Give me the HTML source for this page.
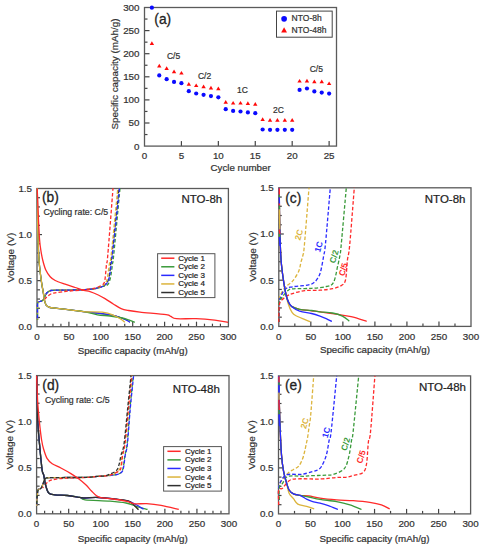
<!DOCTYPE html><html><head><meta charset="utf-8"><style>html,body{margin:0;padding:0;background:#fff;}svg{display:block;}</style></head><body>
<svg width="482" height="550" viewBox="0 0 482 550" font-family='"Liberation Sans", sans-serif'>
<rect width="482" height="550" fill="#fff"/>
<text x="144.50" y="159.20" font-size="9.80" text-anchor="middle" fill="#333" stroke="#333" stroke-width="0.22">0</text>
<line x1="181.42" y1="146.10" x2="181.42" y2="141.10" stroke="#444" stroke-width="1.20"/>
<text x="181.42" y="159.20" font-size="9.80" text-anchor="middle" fill="#333" stroke="#333" stroke-width="0.22">5</text>
<line x1="218.35" y1="146.10" x2="218.35" y2="141.10" stroke="#444" stroke-width="1.20"/>
<text x="218.35" y="159.20" font-size="9.80" text-anchor="middle" fill="#333" stroke="#333" stroke-width="0.22">10</text>
<line x1="255.27" y1="146.10" x2="255.27" y2="141.10" stroke="#444" stroke-width="1.20"/>
<text x="255.27" y="159.20" font-size="9.80" text-anchor="middle" fill="#333" stroke="#333" stroke-width="0.22">15</text>
<line x1="292.19" y1="146.10" x2="292.19" y2="141.10" stroke="#444" stroke-width="1.20"/>
<text x="292.19" y="159.20" font-size="9.80" text-anchor="middle" fill="#333" stroke="#333" stroke-width="0.22">20</text>
<line x1="329.12" y1="146.10" x2="329.12" y2="141.10" stroke="#444" stroke-width="1.20"/>
<text x="329.12" y="159.20" font-size="9.80" text-anchor="middle" fill="#333" stroke="#333" stroke-width="0.22">25</text>
<text x="139.50" y="149.50" font-size="9.80" text-anchor="end" fill="#333" stroke="#333" stroke-width="0.22">0</text>
<line x1="144.50" y1="134.55" x2="147.50" y2="134.55" stroke="#444" stroke-width="1.20"/>
<line x1="144.50" y1="123.00" x2="149.50" y2="123.00" stroke="#444" stroke-width="1.20"/>
<text x="139.50" y="126.40" font-size="9.80" text-anchor="end" fill="#333" stroke="#333" stroke-width="0.22">50</text>
<line x1="144.50" y1="111.45" x2="147.50" y2="111.45" stroke="#444" stroke-width="1.20"/>
<line x1="144.50" y1="99.90" x2="149.50" y2="99.90" stroke="#444" stroke-width="1.20"/>
<text x="139.50" y="103.30" font-size="9.80" text-anchor="end" fill="#333" stroke="#333" stroke-width="0.22">100</text>
<line x1="144.50" y1="88.35" x2="147.50" y2="88.35" stroke="#444" stroke-width="1.20"/>
<line x1="144.50" y1="76.80" x2="149.50" y2="76.80" stroke="#444" stroke-width="1.20"/>
<text x="139.50" y="80.20" font-size="9.80" text-anchor="end" fill="#333" stroke="#333" stroke-width="0.22">150</text>
<line x1="144.50" y1="65.25" x2="147.50" y2="65.25" stroke="#444" stroke-width="1.20"/>
<line x1="144.50" y1="53.70" x2="149.50" y2="53.70" stroke="#444" stroke-width="1.20"/>
<text x="139.50" y="57.10" font-size="9.80" text-anchor="end" fill="#333" stroke="#333" stroke-width="0.22">200</text>
<line x1="144.50" y1="42.15" x2="147.50" y2="42.15" stroke="#444" stroke-width="1.20"/>
<line x1="144.50" y1="30.60" x2="149.50" y2="30.60" stroke="#444" stroke-width="1.20"/>
<text x="139.50" y="34.00" font-size="9.80" text-anchor="end" fill="#333" stroke="#333" stroke-width="0.22">250</text>
<line x1="144.50" y1="19.05" x2="147.50" y2="19.05" stroke="#444" stroke-width="1.20"/>
<text x="139.50" y="10.90" font-size="9.80" text-anchor="end" fill="#333" stroke="#333" stroke-width="0.22">300</text>
<rect x="144.50" y="7.50" width="192.00" height="138.60" fill="none" stroke="#5a5a5a" stroke-width="1.30"/>
<text x="240.60" y="170.90" font-size="9.75" text-anchor="middle" fill="#333" stroke="#333" stroke-width="0.22">Cycle number</text>
<text x="0" y="0" font-size="9.85" text-anchor="middle" fill="#333" stroke="#333" stroke-width="0.22" transform="translate(118.2 74) rotate(-90) scale(1 0.88)">Specific capacity (mAh/g)</text>
<text x="0" y="0" font-size="15" fill="#222" stroke="#222" stroke-width="0.3" transform="translate(154.3 23.6) scale(0.92 1)">(a)</text>
<text x="173.50" y="58.80" font-size="8.50" text-anchor="middle" fill="#333" stroke="#333" stroke-width="0.22">C/5</text>
<text x="204.50" y="78.60" font-size="8.50" text-anchor="middle" fill="#333" stroke="#333" stroke-width="0.22">C/2</text>
<text x="242.40" y="93.30" font-size="8.50" text-anchor="middle" fill="#333" stroke="#333" stroke-width="0.22">1C</text>
<text x="278.50" y="112.70" font-size="8.50" text-anchor="middle" fill="#333" stroke="#333" stroke-width="0.22">2C</text>
<text x="316.30" y="71.80" font-size="8.50" text-anchor="middle" fill="#333" stroke="#333" stroke-width="0.22">C/5</text>
<circle cx="151.88" cy="7.70" r="2.1" fill="#0a0aff"/>
<path d="M149.68 44.90 L154.08 44.90 L151.88 41.20 Z" fill="#ff0a0a"/>
<circle cx="159.27" cy="75.40" r="2.1" fill="#0a0aff"/>
<path d="M157.07 67.50 L161.47 67.50 L159.27 63.80 Z" fill="#ff0a0a"/>
<circle cx="166.65" cy="79.20" r="2.1" fill="#0a0aff"/>
<path d="M164.45 70.00 L168.85 70.00 L166.65 66.30 Z" fill="#ff0a0a"/>
<circle cx="174.04" cy="81.90" r="2.1" fill="#0a0aff"/>
<path d="M171.84 73.30 L176.24 73.30 L174.04 69.60 Z" fill="#ff0a0a"/>
<circle cx="181.42" cy="83.20" r="2.1" fill="#0a0aff"/>
<path d="M179.22 74.60 L183.62 74.60 L181.42 70.90 Z" fill="#ff0a0a"/>
<circle cx="188.81" cy="91.20" r="2.1" fill="#0a0aff"/>
<path d="M186.61 85.70 L191.01 85.70 L188.81 82.00 Z" fill="#ff0a0a"/>
<circle cx="196.19" cy="93.50" r="2.1" fill="#0a0aff"/>
<path d="M193.99 87.10 L198.39 87.10 L196.19 83.40 Z" fill="#ff0a0a"/>
<circle cx="203.58" cy="94.80" r="2.1" fill="#0a0aff"/>
<path d="M201.38 88.20 L205.78 88.20 L203.58 84.50 Z" fill="#ff0a0a"/>
<circle cx="210.96" cy="96.10" r="2.1" fill="#0a0aff"/>
<path d="M208.76 89.50 L213.16 89.50 L210.96 85.80 Z" fill="#ff0a0a"/>
<circle cx="218.35" cy="97.30" r="2.1" fill="#0a0aff"/>
<path d="M216.15 90.20 L220.55 90.20 L218.35 86.50 Z" fill="#ff0a0a"/>
<circle cx="225.73" cy="109.20" r="2.1" fill="#0a0aff"/>
<path d="M223.53 103.70 L227.93 103.70 L225.73 100.00 Z" fill="#ff0a0a"/>
<circle cx="233.12" cy="110.90" r="2.1" fill="#0a0aff"/>
<path d="M230.92 104.60 L235.32 104.60 L233.12 100.90 Z" fill="#ff0a0a"/>
<circle cx="240.50" cy="111.50" r="2.1" fill="#0a0aff"/>
<path d="M238.30 104.60 L242.70 104.60 L240.50 100.90 Z" fill="#ff0a0a"/>
<circle cx="247.88" cy="112.40" r="2.1" fill="#0a0aff"/>
<path d="M245.68 104.90 L250.08 104.90 L247.88 101.20 Z" fill="#ff0a0a"/>
<circle cx="255.27" cy="113.20" r="2.1" fill="#0a0aff"/>
<path d="M253.07 105.80 L257.47 105.80 L255.27 102.10 Z" fill="#ff0a0a"/>
<circle cx="262.65" cy="129.50" r="2.1" fill="#0a0aff"/>
<path d="M260.45 121.00 L264.85 121.00 L262.65 117.30 Z" fill="#ff0a0a"/>
<circle cx="270.04" cy="129.80" r="2.1" fill="#0a0aff"/>
<path d="M267.84 121.70 L272.24 121.70 L270.04 118.00 Z" fill="#ff0a0a"/>
<circle cx="277.42" cy="129.80" r="2.1" fill="#0a0aff"/>
<path d="M275.22 121.70 L279.62 121.70 L277.42 118.00 Z" fill="#ff0a0a"/>
<circle cx="284.81" cy="129.80" r="2.1" fill="#0a0aff"/>
<path d="M282.61 121.70 L287.01 121.70 L284.81 118.00 Z" fill="#ff0a0a"/>
<circle cx="292.19" cy="129.80" r="2.1" fill="#0a0aff"/>
<path d="M289.99 121.70 L294.39 121.70 L292.19 118.00 Z" fill="#ff0a0a"/>
<circle cx="299.58" cy="89.90" r="2.1" fill="#0a0aff"/>
<path d="M297.38 82.60 L301.78 82.60 L299.58 78.90 Z" fill="#ff0a0a"/>
<circle cx="306.96" cy="88.50" r="2.1" fill="#0a0aff"/>
<path d="M304.76 82.50 L309.16 82.50 L306.96 78.80 Z" fill="#ff0a0a"/>
<circle cx="314.35" cy="91.40" r="2.1" fill="#0a0aff"/>
<path d="M312.15 83.20 L316.55 83.20 L314.35 79.50 Z" fill="#ff0a0a"/>
<circle cx="321.73" cy="92.60" r="2.1" fill="#0a0aff"/>
<path d="M319.53 83.20 L323.93 83.20 L321.73 79.50 Z" fill="#ff0a0a"/>
<circle cx="329.12" cy="93.60" r="2.1" fill="#0a0aff"/>
<path d="M326.92 85.10 L331.32 85.10 L329.12 81.40 Z" fill="#ff0a0a"/>
<rect x="276.50" y="11.10" width="55.70" height="26.10" fill="none" stroke="#444" stroke-width="1.00"/>
<circle cx="284.1" cy="18.8" r="2.85" fill="#0a0aff"/>
<path d="M281.2 32.6 L287.0 32.6 L284.1 27.3 Z" fill="#ff0a0a"/>
<text x="291.60" y="21.40" font-size="8.50" text-anchor="start" fill="#333" stroke="#333" stroke-width="0.22">NTO-8h</text>
<text x="291.60" y="32.60" font-size="8.50" text-anchor="start" fill="#333" stroke="#333" stroke-width="0.22">NTO-48h</text>
<text x="37.00" y="340.00" font-size="9.80" text-anchor="middle" fill="#333" stroke="#333" stroke-width="0.22">0</text>
<line x1="44.98" y1="326.70" x2="44.98" y2="323.70" stroke="#444" stroke-width="1.20"/>
<line x1="52.95" y1="326.70" x2="52.95" y2="323.70" stroke="#444" stroke-width="1.20"/>
<line x1="60.92" y1="326.70" x2="60.92" y2="323.70" stroke="#444" stroke-width="1.20"/>
<line x1="68.90" y1="326.70" x2="68.90" y2="321.70" stroke="#444" stroke-width="1.20"/>
<text x="68.90" y="340.00" font-size="9.80" text-anchor="middle" fill="#333" stroke="#333" stroke-width="0.22">50</text>
<line x1="76.88" y1="326.70" x2="76.88" y2="323.70" stroke="#444" stroke-width="1.20"/>
<line x1="84.85" y1="326.70" x2="84.85" y2="323.70" stroke="#444" stroke-width="1.20"/>
<line x1="92.83" y1="326.70" x2="92.83" y2="323.70" stroke="#444" stroke-width="1.20"/>
<line x1="100.80" y1="326.70" x2="100.80" y2="321.70" stroke="#444" stroke-width="1.20"/>
<text x="100.80" y="340.00" font-size="9.80" text-anchor="middle" fill="#333" stroke="#333" stroke-width="0.22">100</text>
<line x1="108.78" y1="326.70" x2="108.78" y2="323.70" stroke="#444" stroke-width="1.20"/>
<line x1="116.75" y1="326.70" x2="116.75" y2="323.70" stroke="#444" stroke-width="1.20"/>
<line x1="124.73" y1="326.70" x2="124.73" y2="323.70" stroke="#444" stroke-width="1.20"/>
<line x1="132.70" y1="326.70" x2="132.70" y2="321.70" stroke="#444" stroke-width="1.20"/>
<text x="132.70" y="340.00" font-size="9.80" text-anchor="middle" fill="#333" stroke="#333" stroke-width="0.22">150</text>
<line x1="140.68" y1="326.70" x2="140.68" y2="323.70" stroke="#444" stroke-width="1.20"/>
<line x1="148.65" y1="326.70" x2="148.65" y2="323.70" stroke="#444" stroke-width="1.20"/>
<line x1="156.62" y1="326.70" x2="156.62" y2="323.70" stroke="#444" stroke-width="1.20"/>
<line x1="164.60" y1="326.70" x2="164.60" y2="321.70" stroke="#444" stroke-width="1.20"/>
<text x="164.60" y="340.00" font-size="9.80" text-anchor="middle" fill="#333" stroke="#333" stroke-width="0.22">200</text>
<line x1="172.57" y1="326.70" x2="172.57" y2="323.70" stroke="#444" stroke-width="1.20"/>
<line x1="180.55" y1="326.70" x2="180.55" y2="323.70" stroke="#444" stroke-width="1.20"/>
<line x1="188.53" y1="326.70" x2="188.53" y2="323.70" stroke="#444" stroke-width="1.20"/>
<line x1="196.50" y1="326.70" x2="196.50" y2="321.70" stroke="#444" stroke-width="1.20"/>
<text x="196.50" y="340.00" font-size="9.80" text-anchor="middle" fill="#333" stroke="#333" stroke-width="0.22">250</text>
<line x1="204.47" y1="326.70" x2="204.47" y2="323.70" stroke="#444" stroke-width="1.20"/>
<line x1="212.45" y1="326.70" x2="212.45" y2="323.70" stroke="#444" stroke-width="1.20"/>
<line x1="220.43" y1="326.70" x2="220.43" y2="323.70" stroke="#444" stroke-width="1.20"/>
<text x="228.40" y="340.00" font-size="9.80" text-anchor="middle" fill="#333" stroke="#333" stroke-width="0.22">300</text>
<text x="32.00" y="330.10" font-size="9.80" text-anchor="end" fill="#333" stroke="#333" stroke-width="0.22">0.0</text>
<line x1="37.00" y1="317.49" x2="40.00" y2="317.49" stroke="#444" stroke-width="1.20"/>
<line x1="37.00" y1="308.27" x2="40.00" y2="308.27" stroke="#444" stroke-width="1.20"/>
<line x1="37.00" y1="299.06" x2="40.00" y2="299.06" stroke="#444" stroke-width="1.20"/>
<line x1="37.00" y1="289.85" x2="40.00" y2="289.85" stroke="#444" stroke-width="1.20"/>
<line x1="37.00" y1="280.63" x2="42.00" y2="280.63" stroke="#444" stroke-width="1.20"/>
<text x="32.00" y="284.03" font-size="9.80" text-anchor="end" fill="#333" stroke="#333" stroke-width="0.22">0.5</text>
<line x1="37.00" y1="271.42" x2="40.00" y2="271.42" stroke="#444" stroke-width="1.20"/>
<line x1="37.00" y1="262.21" x2="40.00" y2="262.21" stroke="#444" stroke-width="1.20"/>
<line x1="37.00" y1="252.99" x2="40.00" y2="252.99" stroke="#444" stroke-width="1.20"/>
<line x1="37.00" y1="243.78" x2="40.00" y2="243.78" stroke="#444" stroke-width="1.20"/>
<line x1="37.00" y1="234.57" x2="42.00" y2="234.57" stroke="#444" stroke-width="1.20"/>
<text x="32.00" y="237.97" font-size="9.80" text-anchor="end" fill="#333" stroke="#333" stroke-width="0.22">1.0</text>
<line x1="37.00" y1="225.35" x2="40.00" y2="225.35" stroke="#444" stroke-width="1.20"/>
<line x1="37.00" y1="216.14" x2="40.00" y2="216.14" stroke="#444" stroke-width="1.20"/>
<line x1="37.00" y1="206.93" x2="40.00" y2="206.93" stroke="#444" stroke-width="1.20"/>
<line x1="37.00" y1="197.71" x2="40.00" y2="197.71" stroke="#444" stroke-width="1.20"/>
<text x="32.00" y="191.90" font-size="9.80" text-anchor="end" fill="#333" stroke="#333" stroke-width="0.22">1.5</text>
<text x="132.70" y="353.70" font-size="9.75" text-anchor="middle" fill="#333" stroke="#333" stroke-width="0.22">Specific capacity (mAh/g)</text>
<text x="0" y="0" font-size="10" text-anchor="middle" fill="#333" stroke="#333" stroke-width="0.22" transform="translate(13.70 257.50) rotate(-90) scale(1 0.88)">Voltage (V)</text>
<rect x="37.00" y="188.50" width="191.40" height="138.20" fill="none" stroke="#5a5a5a" stroke-width="1.30"/>
<text x="0" y="0" font-size="15" fill="#222" stroke="#222" stroke-width="0.3" transform="translate(42.00 201.90) scale(0.92 1)">(b)</text>
<text x="222.20" y="203.20" font-size="11.50" text-anchor="end" fill="#222" stroke="#222" stroke-width="0.22">NTO-8h</text>
<path d="M37.50 320.00 C37.50 318.00 37.45 310.93 37.50 308.00 C37.55 305.07 37.38 303.48 37.80 302.40 C38.22 301.32 39.22 301.82 40.00 301.50 C40.78 301.18 41.78 301.08 42.50 300.50 C43.22 299.92 43.80 298.92 44.30 298.00 C44.80 297.08 45.05 295.87 45.50 295.00 C45.95 294.13 46.47 293.38 47.00 292.80 C47.53 292.22 48.03 291.88 48.70 291.50 C49.37 291.12 49.62 290.72 51.00 290.50 C52.38 290.28 53.23 290.28 57.00 290.20 C60.77 290.12 68.93 290.10 73.60 290.00 C78.27 289.90 81.43 289.83 85.00 289.60 C88.57 289.37 92.08 289.12 95.00 288.60 C97.92 288.08 100.63 287.33 102.50 286.50 C104.37 285.67 105.23 284.70 106.20 283.60 C107.17 282.50 107.68 281.90 108.30 279.90 C108.92 277.90 109.48 274.37 109.90 271.60 C110.32 268.83 110.45 266.07 110.80 263.30 C111.15 260.53 110.63 267.50 112.00 255.00 C113.37 242.50 117.83 199.42 119.00 188.30" fill="none" stroke="#303030" stroke-width="1.30" stroke-dasharray="3.6 2" stroke-dashoffset="0.00" stroke-linecap="butt" stroke-linejoin="round" opacity="1.00"/>
<path d="M37.50 320.00 C37.50 318.00 37.45 310.93 37.50 308.00 C37.55 305.07 37.38 303.48 37.80 302.40 C38.22 301.32 39.22 301.82 40.00 301.50 C40.78 301.18 41.78 301.08 42.50 300.50 C43.22 299.92 43.80 298.92 44.30 298.00 C44.80 297.08 45.05 295.87 45.50 295.00 C45.95 294.13 46.47 293.38 47.00 292.80 C47.53 292.22 48.03 291.88 48.70 291.50 C49.37 291.12 49.62 290.72 51.00 290.50 C52.38 290.28 53.23 290.28 57.00 290.20 C60.77 290.12 68.93 290.10 73.60 290.00 C78.27 289.90 81.43 289.83 85.00 289.60 C88.57 289.37 92.08 289.12 95.00 288.60 C97.92 288.08 100.85 287.33 102.50 286.50 C104.15 285.67 104.15 284.70 104.90 283.60 C105.65 282.50 106.43 281.90 107.00 279.90 C107.57 277.90 107.88 274.37 108.30 271.60 C108.72 268.83 109.02 266.07 109.50 263.30 C109.98 260.53 109.82 267.50 111.20 255.00 C112.58 242.50 116.70 199.42 117.80 188.30" fill="none" stroke="#dcb43c" stroke-width="1.30" stroke-dasharray="3.6 2" stroke-dashoffset="1.30" stroke-linecap="butt" stroke-linejoin="round" opacity="1.00"/>
<path d="M37.50 320.00 C37.50 318.00 37.45 310.93 37.50 308.00 C37.55 305.07 37.38 303.48 37.80 302.40 C38.22 301.32 39.22 301.82 40.00 301.50 C40.78 301.18 41.78 301.08 42.50 300.50 C43.22 299.92 43.80 298.92 44.30 298.00 C44.80 297.08 45.05 295.87 45.50 295.00 C45.95 294.13 46.47 293.38 47.00 292.80 C47.53 292.22 48.03 291.88 48.70 291.50 C49.37 291.12 49.62 290.72 51.00 290.50 C52.38 290.28 53.23 290.28 57.00 290.20 C60.77 290.12 68.93 290.10 73.60 290.00 C78.27 289.90 81.43 289.83 85.00 289.60 C88.57 289.37 92.08 289.12 95.00 288.60 C97.92 288.08 100.43 287.12 102.50 286.50 C104.57 285.88 106.17 286.00 107.40 284.90 C108.63 283.80 109.22 282.12 109.90 279.90 C110.58 277.68 111.07 274.37 111.50 271.60 C111.93 268.83 112.13 266.07 112.50 263.30 C112.87 260.53 112.45 267.50 113.70 255.00 C114.95 242.50 118.95 199.42 120.00 188.30" fill="none" stroke="#3a9a3a" stroke-width="1.30" stroke-dasharray="3.6 2" stroke-dashoffset="2.60" stroke-linecap="butt" stroke-linejoin="round" opacity="1.00"/>
<path d="M37.50 320.00 C37.50 318.00 37.45 310.93 37.50 308.00 C37.55 305.07 37.38 303.48 37.80 302.40 C38.22 301.32 39.22 301.82 40.00 301.50 C40.78 301.18 41.78 301.08 42.50 300.50 C43.22 299.92 43.80 298.92 44.30 298.00 C44.80 297.08 45.05 295.87 45.50 295.00 C45.95 294.13 46.47 293.38 47.00 292.80 C47.53 292.22 48.03 291.88 48.70 291.50 C49.37 291.12 49.62 290.72 51.00 290.50 C52.38 290.28 53.23 290.28 57.00 290.20 C60.77 290.12 68.93 290.10 73.60 290.00 C78.27 289.90 81.43 289.83 85.00 289.60 C88.57 289.37 92.08 289.12 95.00 288.60 C97.92 288.08 100.57 287.33 102.50 286.50 C104.43 285.67 105.57 284.70 106.60 283.60 C107.63 282.50 108.08 281.90 108.70 279.90 C109.32 277.90 109.88 274.37 110.30 271.60 C110.72 268.83 110.85 266.07 111.20 263.30 C111.55 260.53 111.02 267.50 112.40 255.00 C113.78 242.50 118.32 199.42 119.50 188.30" fill="none" stroke="#2a2aff" stroke-width="1.30" stroke-dasharray="3.6 2" stroke-dashoffset="3.90" stroke-linecap="butt" stroke-linejoin="round" opacity="1.00"/>
<path d="M44.30 299.70 C44.83 299.15 46.42 297.35 47.50 296.40 C48.58 295.45 49.57 294.60 50.80 294.00 C52.03 293.40 52.13 293.27 54.90 292.80 C57.67 292.33 62.83 291.67 67.40 291.20 C71.97 290.73 78.53 290.37 82.30 290.00 C86.07 289.63 87.88 289.30 90.00 289.00 C92.12 288.70 93.20 288.75 95.00 288.20 C96.80 287.65 99.35 286.47 100.80 285.70 C102.25 284.93 103.02 284.57 103.70 283.60 C104.38 282.63 104.55 281.90 104.90 279.90 C105.25 277.90 105.52 274.37 105.80 271.60 C106.08 268.83 106.27 266.07 106.60 263.30 C106.93 260.53 106.73 267.50 107.80 255.00 C108.87 242.50 112.13 199.42 113.00 188.30" fill="none" stroke="#ff2a2a" stroke-width="1.30" stroke-dasharray="3.6 2" stroke-dashoffset="0.00" stroke-linecap="butt" stroke-linejoin="round" opacity="1.00"/>
<path d="M37.30 188.30 C37.38 195.25 37.52 218.05 37.80 230.00 C38.08 241.95 38.43 251.67 39.00 260.00 C39.57 268.33 40.47 274.47 41.20 280.00 C41.93 285.53 42.88 289.92 43.40 293.20 C43.92 296.48 43.82 297.67 44.30 299.70 C44.78 301.73 45.35 304.10 46.30 305.40 C47.25 306.70 48.22 307.02 50.00 307.50 C51.78 307.98 53.07 307.83 57.00 308.30 C60.93 308.77 68.93 309.72 73.60 310.30 C78.27 310.88 81.02 311.32 85.00 311.80 C88.98 312.28 93.33 312.70 97.50 313.20 C101.67 313.70 106.92 314.33 110.00 314.80 C113.08 315.27 113.33 315.17 116.00 316.00 C118.67 316.83 123.70 318.75 126.00 319.80 C128.30 320.85 129.17 321.88 129.80 322.30" fill="none" stroke="#303030" stroke-width="1.00" stroke-linecap="butt" stroke-linejoin="round" opacity="1.00"/>
<path d="M37.30 188.30 C37.38 195.25 37.52 218.05 37.80 230.00 C38.08 241.95 38.43 251.67 39.00 260.00 C39.57 268.33 40.47 274.47 41.20 280.00 C41.93 285.53 42.88 289.92 43.40 293.20 C43.92 296.48 43.82 297.67 44.30 299.70 C44.78 301.73 45.35 304.10 46.30 305.40 C47.25 306.70 48.22 307.02 50.00 307.50 C51.78 307.98 53.07 307.83 57.00 308.30 C60.93 308.77 68.93 309.72 73.60 310.30 C78.27 310.88 81.02 311.32 85.00 311.80 C88.98 312.28 93.33 312.70 97.50 313.20 C101.67 313.70 106.92 314.33 110.00 314.80 C113.08 315.27 113.33 315.17 116.00 316.00 C118.67 316.83 123.70 318.75 126.00 319.80 C128.30 320.85 129.17 321.88 129.80 322.30" fill="none" stroke="#2a2aff" stroke-width="1.30" stroke-linecap="butt" stroke-linejoin="round" opacity="1.00"/>
<path d="M37.30 188.30 C37.38 195.25 37.52 218.05 37.80 230.00 C38.08 241.95 38.43 251.67 39.00 260.00 C39.57 268.33 40.47 274.47 41.20 280.00 C41.93 285.53 42.88 289.92 43.40 293.20 C43.92 296.48 43.82 297.67 44.30 299.70 C44.78 301.73 45.35 304.10 46.30 305.40 C47.25 306.70 48.22 307.02 50.00 307.50 C51.78 307.98 53.07 307.83 57.00 308.30 C60.93 308.77 68.93 309.72 73.60 310.30 C78.27 310.88 81.02 311.05 85.00 311.80 C88.98 312.55 93.33 314.10 97.50 314.80 C101.67 315.50 105.85 315.47 110.00 316.00 C114.15 316.53 119.30 317.37 122.40 318.00 C125.50 318.63 126.53 319.08 128.60 319.80 C130.67 320.52 133.77 321.88 134.80 322.30" fill="none" stroke="#3a9a3a" stroke-width="1.30" stroke-linecap="butt" stroke-linejoin="round" opacity="1.00"/>
<path d="M37.30 188.30 C37.38 195.25 37.52 218.05 37.80 230.00 C38.08 241.95 38.43 251.67 39.00 260.00 C39.57 268.33 40.47 274.47 41.20 280.00 C41.93 285.53 42.88 289.92 43.40 293.20 C43.92 296.48 43.82 297.67 44.30 299.70 C44.78 301.73 45.35 304.10 46.30 305.40 C47.25 306.70 48.22 307.02 50.00 307.50 C51.78 307.98 53.07 307.83 57.00 308.30 C60.93 308.77 68.93 309.72 73.60 310.30 C78.27 310.88 79.98 311.47 85.00 311.80 C90.02 312.13 98.93 311.70 103.70 312.30 C108.47 312.90 110.72 314.25 113.60 315.40 C116.48 316.55 119.13 318.05 121.00 319.20 C122.87 320.35 124.17 321.78 124.80 322.30" fill="none" stroke="#dcb43c" stroke-width="1.30" stroke-linecap="butt" stroke-linejoin="round" opacity="1.00"/>
<path d="M37.20 188.50 C37.42 193.75 38.10 211.42 38.50 220.00 C38.90 228.58 39.22 235.00 39.60 240.00 C39.98 245.00 40.28 246.67 40.80 250.00 C41.32 253.33 41.87 256.67 42.70 260.00 C43.53 263.33 44.55 267.22 45.80 270.00 C47.05 272.78 48.63 274.95 50.20 276.70 C51.77 278.45 52.72 279.25 55.20 280.50 C57.68 281.75 61.78 283.03 65.10 284.20 C68.42 285.37 71.98 286.48 75.10 287.50 C78.22 288.52 81.32 289.62 83.80 290.30 C86.28 290.98 87.58 290.82 90.00 291.60 C92.42 292.38 95.80 293.83 98.30 295.00 C100.80 296.17 102.45 297.07 105.00 298.60 C107.55 300.13 110.92 302.53 113.60 304.20 C116.28 305.87 118.60 307.55 121.10 308.60 C123.60 309.65 125.45 309.92 128.60 310.50 C131.75 311.08 133.75 311.42 140.00 312.10 C146.25 312.78 160.97 313.88 166.10 314.60 C171.23 315.32 169.08 315.72 170.80 316.40 C172.52 317.08 172.20 318.32 176.40 318.70 C180.60 319.08 189.62 318.45 196.00 318.70 C202.38 318.95 209.37 319.58 214.70 320.20 C220.03 320.82 225.78 322.03 228.00 322.40" fill="none" stroke="#ff2a2a" stroke-width="1.30" stroke-linecap="butt" stroke-linejoin="round" opacity="1.00"/>
<text x="43.50" y="215.30" font-size="8.75" text-anchor="start" fill="#333" stroke="#333" stroke-width="0.22">Cycling rate: C/5</text>
<rect x="157.6" y="253.7" width="57.3" height="43.9" fill="#fff" stroke="none"/>
<rect x="157.60" y="253.70" width="57.30" height="43.90" fill="none" stroke="#555" stroke-width="1.00"/>
<line x1="161.20" y1="258.20" x2="174.40" y2="258.20" stroke="#ff2a2a" stroke-width="1.50"/>
<text x="178.30" y="260.70" font-size="8.00" text-anchor="start" fill="#222" stroke="#222" stroke-width="0.22">Cycle 1</text>
<line x1="161.20" y1="266.78" x2="174.40" y2="266.78" stroke="#3a9a3a" stroke-width="1.50"/>
<text x="178.30" y="269.28" font-size="8.00" text-anchor="start" fill="#222" stroke="#222" stroke-width="0.22">Cycle 2</text>
<line x1="161.20" y1="275.36" x2="174.40" y2="275.36" stroke="#2a2aff" stroke-width="1.50"/>
<text x="178.30" y="277.86" font-size="8.00" text-anchor="start" fill="#222" stroke="#222" stroke-width="0.22">Cycle 3</text>
<line x1="161.20" y1="283.94" x2="174.40" y2="283.94" stroke="#dcb43c" stroke-width="1.50"/>
<text x="178.30" y="286.44" font-size="8.00" text-anchor="start" fill="#222" stroke="#222" stroke-width="0.22">Cycle 4</text>
<line x1="161.20" y1="292.52" x2="174.40" y2="292.52" stroke="#303030" stroke-width="1.50"/>
<text x="178.30" y="295.02" font-size="8.00" text-anchor="start" fill="#222" stroke="#222" stroke-width="0.22">Cycle 5</text>
<text x="278.80" y="339.70" font-size="9.80" text-anchor="middle" fill="#333" stroke="#333" stroke-width="0.22">0</text>
<line x1="294.82" y1="326.40" x2="294.82" y2="323.40" stroke="#444" stroke-width="1.20"/>
<line x1="310.83" y1="326.40" x2="310.83" y2="321.40" stroke="#444" stroke-width="1.20"/>
<text x="310.83" y="339.70" font-size="9.80" text-anchor="middle" fill="#333" stroke="#333" stroke-width="0.22">50</text>
<line x1="326.85" y1="326.40" x2="326.85" y2="323.40" stroke="#444" stroke-width="1.20"/>
<line x1="342.87" y1="326.40" x2="342.87" y2="321.40" stroke="#444" stroke-width="1.20"/>
<text x="342.87" y="339.70" font-size="9.80" text-anchor="middle" fill="#333" stroke="#333" stroke-width="0.22">100</text>
<line x1="358.88" y1="326.40" x2="358.88" y2="323.40" stroke="#444" stroke-width="1.20"/>
<line x1="374.90" y1="326.40" x2="374.90" y2="321.40" stroke="#444" stroke-width="1.20"/>
<text x="374.90" y="339.70" font-size="9.80" text-anchor="middle" fill="#333" stroke="#333" stroke-width="0.22">150</text>
<line x1="390.92" y1="326.40" x2="390.92" y2="323.40" stroke="#444" stroke-width="1.20"/>
<line x1="406.93" y1="326.40" x2="406.93" y2="321.40" stroke="#444" stroke-width="1.20"/>
<text x="406.93" y="339.70" font-size="9.80" text-anchor="middle" fill="#333" stroke="#333" stroke-width="0.22">200</text>
<line x1="422.95" y1="326.40" x2="422.95" y2="323.40" stroke="#444" stroke-width="1.20"/>
<line x1="438.97" y1="326.40" x2="438.97" y2="321.40" stroke="#444" stroke-width="1.20"/>
<text x="438.97" y="339.70" font-size="9.80" text-anchor="middle" fill="#333" stroke="#333" stroke-width="0.22">250</text>
<line x1="454.98" y1="326.40" x2="454.98" y2="323.40" stroke="#444" stroke-width="1.20"/>
<text x="471.00" y="339.70" font-size="9.80" text-anchor="middle" fill="#333" stroke="#333" stroke-width="0.22">300</text>
<text x="273.80" y="329.80" font-size="9.80" text-anchor="end" fill="#333" stroke="#333" stroke-width="0.22">0.0</text>
<line x1="278.80" y1="317.16" x2="281.80" y2="317.16" stroke="#444" stroke-width="1.20"/>
<line x1="278.80" y1="307.92" x2="281.80" y2="307.92" stroke="#444" stroke-width="1.20"/>
<line x1="278.80" y1="298.68" x2="281.80" y2="298.68" stroke="#444" stroke-width="1.20"/>
<line x1="278.80" y1="289.44" x2="281.80" y2="289.44" stroke="#444" stroke-width="1.20"/>
<line x1="278.80" y1="280.20" x2="283.80" y2="280.20" stroke="#444" stroke-width="1.20"/>
<text x="273.80" y="283.60" font-size="9.80" text-anchor="end" fill="#333" stroke="#333" stroke-width="0.22">0.5</text>
<line x1="278.80" y1="270.96" x2="281.80" y2="270.96" stroke="#444" stroke-width="1.20"/>
<line x1="278.80" y1="261.72" x2="281.80" y2="261.72" stroke="#444" stroke-width="1.20"/>
<line x1="278.80" y1="252.48" x2="281.80" y2="252.48" stroke="#444" stroke-width="1.20"/>
<line x1="278.80" y1="243.24" x2="281.80" y2="243.24" stroke="#444" stroke-width="1.20"/>
<line x1="278.80" y1="234.00" x2="283.80" y2="234.00" stroke="#444" stroke-width="1.20"/>
<text x="273.80" y="237.40" font-size="9.80" text-anchor="end" fill="#333" stroke="#333" stroke-width="0.22">1.0</text>
<line x1="278.80" y1="224.76" x2="281.80" y2="224.76" stroke="#444" stroke-width="1.20"/>
<line x1="278.80" y1="215.52" x2="281.80" y2="215.52" stroke="#444" stroke-width="1.20"/>
<line x1="278.80" y1="206.28" x2="281.80" y2="206.28" stroke="#444" stroke-width="1.20"/>
<line x1="278.80" y1="197.04" x2="281.80" y2="197.04" stroke="#444" stroke-width="1.20"/>
<text x="273.80" y="191.20" font-size="9.80" text-anchor="end" fill="#333" stroke="#333" stroke-width="0.22">1.5</text>
<text x="374.90" y="353.40" font-size="9.75" text-anchor="middle" fill="#333" stroke="#333" stroke-width="0.22">Specific capacity (mAh/g)</text>
<text x="0" y="0" font-size="10" text-anchor="middle" fill="#333" stroke="#333" stroke-width="0.22" transform="translate(255.50 256.80) rotate(-90) scale(1 0.88)">Voltage (V)</text>
<rect x="278.80" y="187.80" width="192.20" height="138.60" fill="none" stroke="#5a5a5a" stroke-width="1.30"/>
<text x="0" y="0" font-size="15" fill="#222" stroke="#222" stroke-width="0.3" transform="translate(285.20 203.20) scale(0.92 1)">(c)</text>
<text x="465.50" y="203.00" font-size="11.50" text-anchor="end" fill="#222" stroke="#222" stroke-width="0.22">NTO-8h</text>
<path d="M279.30 322.00 C279.33 318.33 279.38 304.33 279.50 300.00 C279.62 295.67 279.08 298.10 280.00 296.00 C280.92 293.90 282.92 289.87 285.00 287.40 C287.08 284.93 290.22 283.90 292.50 281.20 C294.78 278.50 297.28 274.40 298.70 271.20 C300.12 268.00 300.28 264.70 301.00 262.00 C301.72 259.30 302.43 257.83 303.00 255.00 C303.57 252.17 303.40 256.20 304.40 245.00 C305.40 233.80 308.23 197.33 309.00 187.80" fill="none" stroke="#dcb43c" stroke-width="1.30" stroke-dasharray="3.6 2" stroke-dashoffset="0.00" stroke-linecap="butt" stroke-linejoin="round" opacity="1.00"/>
<path d="M279.30 322.00 C279.33 318.50 279.38 304.90 279.50 301.00 C279.62 297.10 279.08 300.57 280.00 298.60 C280.92 296.63 282.92 291.17 285.00 289.20 C287.08 287.23 288.57 287.52 292.50 286.80 C296.43 286.08 305.02 285.62 308.60 284.90 C312.18 284.18 312.53 283.53 314.00 282.50 C315.47 281.47 316.32 280.45 317.40 278.70 C318.48 276.95 319.47 275.75 320.50 272.00 C321.53 268.25 322.77 260.95 323.60 256.20 C324.43 251.45 324.38 254.90 325.50 243.50 C326.62 232.10 329.50 197.08 330.30 187.80" fill="none" stroke="#2a2aff" stroke-width="1.30" stroke-dasharray="3.6 2" stroke-dashoffset="0.00" stroke-linecap="butt" stroke-linejoin="round" opacity="1.00"/>
<path d="M279.00 322.00 C279.00 318.83 278.52 307.08 279.00 303.00 C279.48 298.92 280.40 299.58 281.90 297.50 C283.40 295.42 286.03 291.95 288.00 290.50 C289.97 289.05 289.78 289.17 293.70 288.80 C297.62 288.43 306.07 288.68 311.50 288.30 C316.93 287.92 322.63 287.48 326.30 286.50 C329.97 285.52 331.57 285.98 333.50 282.40 C335.43 278.82 336.80 269.65 337.90 265.00 C339.00 260.35 339.55 257.83 340.10 254.50 C340.65 251.17 340.17 256.12 341.20 245.00 C342.23 233.88 345.45 197.33 346.30 187.80" fill="none" stroke="#3a9a3a" stroke-width="1.30" stroke-dasharray="3.6 2" stroke-dashoffset="0.00" stroke-linecap="butt" stroke-linejoin="round" opacity="1.00"/>
<path d="M278.80 322.00 C278.83 320.00 278.80 313.28 279.00 310.00 C279.20 306.72 278.92 304.47 280.00 302.30 C281.08 300.13 283.42 298.45 285.50 297.00 C287.58 295.55 289.27 294.67 292.50 293.60 C295.73 292.53 300.32 291.17 304.90 290.60 C309.48 290.03 315.40 290.52 320.00 290.20 C324.60 289.88 328.97 289.47 332.50 288.70 C336.03 287.93 339.03 287.05 341.20 285.60 C343.37 284.15 344.47 284.22 345.50 280.00 C346.53 275.78 346.70 266.13 347.40 260.30 C348.10 254.47 348.55 257.08 349.70 245.00 C350.85 232.92 353.53 197.33 354.30 187.80" fill="none" stroke="#ff2a2a" stroke-width="1.30" stroke-dasharray="3.6 2" stroke-dashoffset="0.00" stroke-linecap="butt" stroke-linejoin="round" opacity="1.00"/>
<path d="M279.20 187.80 C279.27 193.17 279.38 209.63 279.60 220.00 C279.82 230.37 280.18 242.50 280.50 250.00 C280.82 257.50 280.95 259.55 281.50 265.00 C282.05 270.45 283.05 277.77 283.80 282.70 C284.55 287.63 285.25 291.05 286.00 294.60 C286.75 298.15 287.37 301.15 288.30 304.00 C289.23 306.85 290.32 309.73 291.60 311.70 C292.88 313.67 292.88 314.13 296.00 315.80 C299.12 317.47 307.92 320.72 310.30 321.70" fill="none" stroke="#dcb43c" stroke-width="1.30" stroke-linecap="butt" stroke-linejoin="round" opacity="1.00"/>
<path d="M279.20 187.80 C279.27 193.17 279.38 209.63 279.60 220.00 C279.82 230.37 280.18 242.50 280.50 250.00 C280.82 257.50 280.95 259.55 281.50 265.00 C282.05 270.45 283.05 277.77 283.80 282.70 C284.55 287.63 285.25 291.45 286.00 294.60 C286.75 297.75 287.37 299.63 288.30 301.60 C289.23 303.57 289.72 305.12 291.60 306.40 C293.48 307.68 296.28 308.57 299.60 309.30 C302.92 310.03 308.10 310.38 311.50 310.80 C314.90 311.22 315.88 311.23 320.00 311.80 C324.12 312.37 331.02 313.38 336.20 314.20 C341.38 315.02 346.02 315.52 351.10 316.70 C356.18 317.88 364.10 320.53 366.70 321.30" fill="none" stroke="#ff2a2a" stroke-width="1.30" stroke-linecap="butt" stroke-linejoin="round" opacity="1.00"/>
<path d="M279.20 187.80 C279.27 193.17 279.38 209.63 279.60 220.00 C279.82 230.37 280.18 242.50 280.50 250.00 C280.82 257.50 280.95 259.55 281.50 265.00 C282.05 270.45 283.05 277.77 283.80 282.70 C284.55 287.63 285.25 291.45 286.00 294.60 C286.75 297.75 287.37 299.63 288.30 301.60 C289.23 303.57 289.72 305.12 291.60 306.40 C293.48 307.68 296.28 308.62 299.60 309.30 C302.92 309.98 308.10 310.08 311.50 310.50 C314.90 310.92 316.50 311.38 320.00 311.80 C323.50 312.22 328.77 312.28 332.50 313.00 C336.23 313.72 339.60 314.75 342.40 316.10 C345.20 317.45 348.15 320.27 349.30 321.10" fill="none" stroke="#3a9a3a" stroke-width="1.30" stroke-linecap="butt" stroke-linejoin="round" opacity="1.00"/>
<path d="M279.20 187.80 C279.27 193.17 279.38 209.63 279.60 220.00 C279.82 230.37 280.18 242.50 280.50 250.00 C280.82 257.50 280.95 259.55 281.50 265.00 C282.05 270.45 283.05 277.77 283.80 282.70 C284.55 287.63 285.25 291.45 286.00 294.60 C286.75 297.75 287.37 299.63 288.30 301.60 C289.23 303.57 289.72 304.82 291.60 306.40 C293.48 307.98 296.28 309.92 299.60 311.10 C302.92 312.28 308.10 312.67 311.50 313.50 C314.90 314.33 317.55 315.25 320.00 316.10 C322.45 316.95 324.23 317.70 326.20 318.60 C328.17 319.50 330.87 321.02 331.80 321.50" fill="none" stroke="#2a2aff" stroke-width="1.30" stroke-linecap="butt" stroke-linejoin="round" opacity="1.00"/>
<line x1="279.30" y1="188.30" x2="279.38" y2="194.70" stroke="#ff2a2a" stroke-width="1.30"/>
<line x1="279.30" y1="194.70" x2="279.42" y2="197.60" stroke="#3a9a3a" stroke-width="1.30"/>
<line x1="279.30" y1="197.60" x2="279.49" y2="203.50" stroke="#2a2aff" stroke-width="1.30"/>
<line x1="279.30" y1="203.50" x2="279.51" y2="205.60" stroke="#ff2a2a" stroke-width="1.30"/>
<line x1="279.30" y1="205.60" x2="279.56" y2="209.30" stroke="#3a9a3a" stroke-width="1.30"/>
<line x1="279.30" y1="209.30" x2="279.80" y2="229.60" stroke="#dcb43c" stroke-width="1.30"/>
<line x1="279.30" y1="229.60" x2="279.85" y2="234.00" stroke="#ff2a2a" stroke-width="1.30"/>
<line x1="279.30" y1="234.00" x2="279.89" y2="237.00" stroke="#3a9a3a" stroke-width="1.30"/>
<line x1="279.30" y1="237.00" x2="280.00" y2="246.00" stroke="#2a2aff" stroke-width="1.30"/>
<text x="0" y="0" font-size="8.50" font-weight="bold" text-anchor="middle" fill="#dcb43c" transform="translate(298.80 234.70) rotate(-74)" dominant-baseline="central">2C</text>
<text x="0" y="0" font-size="8.50" font-weight="bold" text-anchor="middle" fill="#2a2aff" transform="translate(318.60 246.70) rotate(-74)" dominant-baseline="central">1C</text>
<text x="0" y="0" font-size="8.50" font-weight="bold" text-anchor="middle" fill="#3a9a3a" transform="translate(334.00 256.60) rotate(-74)" dominant-baseline="central">C/2</text>
<text x="0" y="0" font-size="8.50" font-weight="bold" text-anchor="middle" fill="#ff2a2a" transform="translate(343.10 269.40) rotate(-74)" dominant-baseline="central">C/5</text>
<text x="36.60" y="527.10" font-size="9.80" text-anchor="middle" fill="#333" stroke="#333" stroke-width="0.22">0</text>
<line x1="44.62" y1="513.80" x2="44.62" y2="510.80" stroke="#444" stroke-width="1.20"/>
<line x1="52.63" y1="513.80" x2="52.63" y2="510.80" stroke="#444" stroke-width="1.20"/>
<line x1="60.65" y1="513.80" x2="60.65" y2="510.80" stroke="#444" stroke-width="1.20"/>
<line x1="68.67" y1="513.80" x2="68.67" y2="508.80" stroke="#444" stroke-width="1.20"/>
<text x="68.67" y="527.10" font-size="9.80" text-anchor="middle" fill="#333" stroke="#333" stroke-width="0.22">50</text>
<line x1="76.68" y1="513.80" x2="76.68" y2="510.80" stroke="#444" stroke-width="1.20"/>
<line x1="84.70" y1="513.80" x2="84.70" y2="510.80" stroke="#444" stroke-width="1.20"/>
<line x1="92.72" y1="513.80" x2="92.72" y2="510.80" stroke="#444" stroke-width="1.20"/>
<line x1="100.73" y1="513.80" x2="100.73" y2="508.80" stroke="#444" stroke-width="1.20"/>
<text x="100.73" y="527.10" font-size="9.80" text-anchor="middle" fill="#333" stroke="#333" stroke-width="0.22">100</text>
<line x1="108.75" y1="513.80" x2="108.75" y2="510.80" stroke="#444" stroke-width="1.20"/>
<line x1="116.77" y1="513.80" x2="116.77" y2="510.80" stroke="#444" stroke-width="1.20"/>
<line x1="124.78" y1="513.80" x2="124.78" y2="510.80" stroke="#444" stroke-width="1.20"/>
<line x1="132.80" y1="513.80" x2="132.80" y2="508.80" stroke="#444" stroke-width="1.20"/>
<text x="132.80" y="527.10" font-size="9.80" text-anchor="middle" fill="#333" stroke="#333" stroke-width="0.22">150</text>
<line x1="140.82" y1="513.80" x2="140.82" y2="510.80" stroke="#444" stroke-width="1.20"/>
<line x1="148.83" y1="513.80" x2="148.83" y2="510.80" stroke="#444" stroke-width="1.20"/>
<line x1="156.85" y1="513.80" x2="156.85" y2="510.80" stroke="#444" stroke-width="1.20"/>
<line x1="164.87" y1="513.80" x2="164.87" y2="508.80" stroke="#444" stroke-width="1.20"/>
<text x="164.87" y="527.10" font-size="9.80" text-anchor="middle" fill="#333" stroke="#333" stroke-width="0.22">200</text>
<line x1="172.88" y1="513.80" x2="172.88" y2="510.80" stroke="#444" stroke-width="1.20"/>
<line x1="180.90" y1="513.80" x2="180.90" y2="510.80" stroke="#444" stroke-width="1.20"/>
<line x1="188.92" y1="513.80" x2="188.92" y2="510.80" stroke="#444" stroke-width="1.20"/>
<line x1="196.93" y1="513.80" x2="196.93" y2="508.80" stroke="#444" stroke-width="1.20"/>
<text x="196.93" y="527.10" font-size="9.80" text-anchor="middle" fill="#333" stroke="#333" stroke-width="0.22">250</text>
<line x1="204.95" y1="513.80" x2="204.95" y2="510.80" stroke="#444" stroke-width="1.20"/>
<line x1="212.97" y1="513.80" x2="212.97" y2="510.80" stroke="#444" stroke-width="1.20"/>
<line x1="220.98" y1="513.80" x2="220.98" y2="510.80" stroke="#444" stroke-width="1.20"/>
<text x="229.00" y="527.10" font-size="9.80" text-anchor="middle" fill="#333" stroke="#333" stroke-width="0.22">300</text>
<text x="31.60" y="517.20" font-size="9.80" text-anchor="end" fill="#333" stroke="#333" stroke-width="0.22">0.0</text>
<line x1="36.60" y1="504.59" x2="39.60" y2="504.59" stroke="#444" stroke-width="1.20"/>
<line x1="36.60" y1="495.37" x2="39.60" y2="495.37" stroke="#444" stroke-width="1.20"/>
<line x1="36.60" y1="486.16" x2="39.60" y2="486.16" stroke="#444" stroke-width="1.20"/>
<line x1="36.60" y1="476.95" x2="39.60" y2="476.95" stroke="#444" stroke-width="1.20"/>
<line x1="36.60" y1="467.73" x2="41.60" y2="467.73" stroke="#444" stroke-width="1.20"/>
<text x="31.60" y="471.13" font-size="9.80" text-anchor="end" fill="#333" stroke="#333" stroke-width="0.22">0.5</text>
<line x1="36.60" y1="458.52" x2="39.60" y2="458.52" stroke="#444" stroke-width="1.20"/>
<line x1="36.60" y1="449.31" x2="39.60" y2="449.31" stroke="#444" stroke-width="1.20"/>
<line x1="36.60" y1="440.09" x2="39.60" y2="440.09" stroke="#444" stroke-width="1.20"/>
<line x1="36.60" y1="430.88" x2="39.60" y2="430.88" stroke="#444" stroke-width="1.20"/>
<line x1="36.60" y1="421.67" x2="41.60" y2="421.67" stroke="#444" stroke-width="1.20"/>
<text x="31.60" y="425.07" font-size="9.80" text-anchor="end" fill="#333" stroke="#333" stroke-width="0.22">1.0</text>
<line x1="36.60" y1="412.45" x2="39.60" y2="412.45" stroke="#444" stroke-width="1.20"/>
<line x1="36.60" y1="403.24" x2="39.60" y2="403.24" stroke="#444" stroke-width="1.20"/>
<line x1="36.60" y1="394.03" x2="39.60" y2="394.03" stroke="#444" stroke-width="1.20"/>
<line x1="36.60" y1="384.81" x2="39.60" y2="384.81" stroke="#444" stroke-width="1.20"/>
<text x="31.60" y="379.00" font-size="9.80" text-anchor="end" fill="#333" stroke="#333" stroke-width="0.22">1.5</text>
<text x="132.80" y="541.60" font-size="9.75" text-anchor="middle" fill="#333" stroke="#333" stroke-width="0.22">Specific capacity (mAh/g)</text>
<text x="0" y="0" font-size="10" text-anchor="middle" fill="#333" stroke="#333" stroke-width="0.22" transform="translate(13.30 444.60) rotate(-90) scale(1 0.88)">Voltage (V)</text>
<rect x="36.60" y="375.60" width="192.40" height="138.20" fill="none" stroke="#5a5a5a" stroke-width="1.30"/>
<text x="0" y="0" font-size="15" fill="#222" stroke="#222" stroke-width="0.3" transform="translate(42.30 389.60) scale(0.92 1)">(d)</text>
<text x="219.80" y="392.90" font-size="11.50" text-anchor="end" fill="#222" stroke="#222" stroke-width="0.22">NTO-48h</text>
<path d="M36.90 506.00 C36.90 505.17 36.70 503.67 36.90 501.00 C37.10 498.33 37.38 492.17 38.10 490.00 C38.82 487.83 40.05 489.78 41.20 488.00 C42.35 486.22 43.75 481.00 45.00 479.30 C46.25 477.60 44.97 478.10 48.70 477.80 C52.43 477.50 61.35 477.57 67.40 477.50 C73.45 477.43 79.98 477.58 85.00 477.40 C90.02 477.22 94.17 476.65 97.50 476.40 C100.83 476.15 101.83 476.20 105.00 475.90 C108.17 475.60 113.75 475.25 116.50 474.60 C119.25 473.95 120.35 473.32 121.50 472.00 C122.65 470.68 122.83 469.48 123.40 466.70 C123.97 463.92 124.28 459.08 124.90 455.30 C125.52 451.52 126.25 451.88 127.10 444.00 C127.95 436.12 128.97 419.40 130.00 408.00 C131.03 396.60 132.75 381.00 133.30 375.60" fill="none" stroke="#3a9a3a" stroke-width="1.30" stroke-dasharray="3.6 2" stroke-dashoffset="2.60" stroke-linecap="butt" stroke-linejoin="round" opacity="1.00"/>
<path d="M36.90 506.00 C36.90 505.17 36.70 503.67 36.90 501.00 C37.10 498.33 37.38 492.17 38.10 490.00 C38.82 487.83 40.05 489.78 41.20 488.00 C42.35 486.22 43.75 481.00 45.00 479.30 C46.25 477.60 44.97 478.10 48.70 477.80 C52.43 477.50 61.35 477.57 67.40 477.50 C73.45 477.43 79.98 477.58 85.00 477.40 C90.02 477.22 94.17 476.65 97.50 476.40 C100.83 476.15 101.83 476.18 105.00 475.90 C108.17 475.62 113.70 475.35 116.50 474.70 C119.30 474.05 120.60 473.33 121.80 472.00 C123.00 470.67 123.13 469.48 123.70 466.70 C124.27 463.92 124.58 459.08 125.20 455.30 C125.82 451.52 126.55 451.88 127.40 444.00 C128.25 436.12 129.27 419.40 130.30 408.00 C131.33 396.60 133.05 381.00 133.60 375.60" fill="none" stroke="#2a2aff" stroke-width="1.30" stroke-dasharray="3.6 2" stroke-dashoffset="0.50" stroke-linecap="butt" stroke-linejoin="round" opacity="1.00"/>
<path d="M36.90 506.00 C36.90 505.17 36.70 503.67 36.90 501.00 C37.10 498.33 37.38 492.17 38.10 490.00 C38.82 487.83 40.05 489.78 41.20 488.00 C42.35 486.22 43.75 481.00 45.00 479.30 C46.25 477.60 44.97 478.10 48.70 477.80 C52.43 477.50 61.35 477.57 67.40 477.50 C73.45 477.43 79.98 477.58 85.00 477.40 C90.02 477.22 94.17 476.65 97.50 476.40 C100.83 476.15 102.58 476.22 105.00 475.90 C107.42 475.58 109.75 475.40 112.00 474.50 C114.25 473.60 117.03 471.92 118.50 470.50 C119.97 469.08 120.18 468.53 120.80 466.00 C121.42 463.47 121.53 458.97 122.20 455.30 C122.87 451.63 123.78 451.88 124.80 444.00 C125.82 436.12 127.17 419.40 128.30 408.00 C129.43 396.60 131.05 381.00 131.60 375.60" fill="none" stroke="#dcb43c" stroke-width="1.30" stroke-dasharray="3.6 2" stroke-dashoffset="1.30" stroke-linecap="butt" stroke-linejoin="round" opacity="1.00"/>
<path d="M42.50 488.00 C43.53 486.87 46.62 482.65 48.70 481.20 C50.78 479.75 51.88 479.83 55.00 479.30 C58.12 478.77 62.40 478.28 67.40 478.00 C72.40 477.72 79.98 477.87 85.00 477.60 C90.02 477.33 94.17 476.68 97.50 476.40 C100.83 476.12 102.58 476.22 105.00 475.90 C107.42 475.58 109.58 475.40 112.00 474.50 C114.42 473.60 117.93 471.92 119.50 470.50 C121.07 469.08 120.88 468.53 121.40 466.00 C121.92 463.47 122.00 458.97 122.60 455.30 C123.20 451.63 124.02 451.88 125.00 444.00 C125.98 436.12 127.37 419.40 128.50 408.00 C129.63 396.60 131.25 381.00 131.80 375.60" fill="none" stroke="#ff2a2a" stroke-width="1.30" stroke-dasharray="3.6 2" stroke-dashoffset="2.00" stroke-linecap="butt" stroke-linejoin="round" opacity="1.00"/>
<path d="M36.90 506.00 C36.90 505.17 36.70 503.67 36.90 501.00 C37.10 498.33 37.38 492.17 38.10 490.00 C38.82 487.83 40.05 489.78 41.20 488.00 C42.35 486.22 43.75 481.00 45.00 479.30 C46.25 477.60 44.97 478.10 48.70 477.80 C52.43 477.50 61.35 477.57 67.40 477.50 C73.45 477.43 79.98 477.58 85.00 477.40 C90.02 477.22 94.17 476.65 97.50 476.40 C100.83 476.15 102.98 476.25 105.00 475.90 C107.02 475.55 107.68 475.20 109.60 474.30 C111.52 473.40 114.92 472.15 116.50 470.50 C118.08 468.85 118.35 466.93 119.10 464.40 C119.85 461.87 120.18 458.70 121.00 455.30 C121.82 451.90 122.88 451.88 124.00 444.00 C125.12 436.12 126.53 419.40 127.70 408.00 C128.87 396.60 130.45 381.00 131.00 375.60" fill="none" stroke="#303030" stroke-width="1.30" stroke-dasharray="3.6 2" stroke-dashoffset="3.90" stroke-linecap="butt" stroke-linejoin="round" opacity="1.00"/>
<path d="M36.80 375.80 C36.95 383.17 37.23 408.48 37.70 420.00 C38.17 431.52 38.87 436.60 39.60 444.90 C40.33 453.20 41.42 464.78 42.10 469.80 C42.78 474.82 43.12 472.47 43.70 475.00 C44.28 477.53 44.77 482.00 45.60 485.00 C46.43 488.00 47.15 491.35 48.70 493.00 C50.25 494.65 51.78 494.48 54.90 494.90 C58.02 495.32 63.25 495.08 67.40 495.50 C71.55 495.92 76.87 496.98 79.80 497.40 C82.73 497.82 82.05 497.98 85.00 498.00 C87.95 498.02 92.32 497.30 97.50 497.50 C102.68 497.70 110.92 498.60 116.10 499.20 C121.28 499.80 125.48 499.97 128.60 501.10 C131.72 502.23 133.18 504.62 134.80 506.00 C136.42 507.38 137.72 508.83 138.30 509.40" fill="none" stroke="#dcb43c" stroke-width="1.30" stroke-linecap="butt" stroke-linejoin="round" opacity="1.00"/>
<path d="M36.80 375.80 C36.95 383.17 37.23 408.48 37.70 420.00 C38.17 431.52 38.87 436.60 39.60 444.90 C40.33 453.20 41.42 464.78 42.10 469.80 C42.78 474.82 43.12 472.47 43.70 475.00 C44.28 477.53 44.77 482.00 45.60 485.00 C46.43 488.00 47.15 491.35 48.70 493.00 C50.25 494.65 51.78 494.48 54.90 494.90 C58.02 495.32 63.25 495.08 67.40 495.50 C71.55 495.92 76.87 496.68 79.80 497.40 C82.73 498.12 79.97 499.18 85.00 499.80 C90.03 500.42 103.15 500.57 110.00 501.10 C116.85 501.63 121.73 502.13 126.10 503.00 C130.47 503.87 132.62 505.23 136.20 506.30 C139.78 507.37 145.70 508.88 147.60 509.40" fill="none" stroke="#3a9a3a" stroke-width="1.30" stroke-linecap="butt" stroke-linejoin="round" opacity="1.00"/>
<path d="M36.80 375.80 C36.95 383.17 37.23 408.48 37.70 420.00 C38.17 431.52 38.87 436.60 39.60 444.90 C40.33 453.20 41.42 464.78 42.10 469.80 C42.78 474.82 43.12 472.47 43.70 475.00 C44.28 477.53 44.77 482.00 45.60 485.00 C46.43 488.00 47.15 491.35 48.70 493.00 C50.25 494.65 51.78 494.48 54.90 494.90 C58.02 495.32 63.25 495.08 67.40 495.50 C71.55 495.92 76.87 496.98 79.80 497.40 C82.73 497.82 82.05 497.98 85.00 498.00 C87.95 498.02 92.32 497.30 97.50 497.50 C102.68 497.70 110.92 498.60 116.10 499.20 C121.28 499.80 124.87 499.97 128.60 501.10 C132.33 502.23 136.02 504.65 138.50 506.00 C140.98 507.35 142.67 508.67 143.50 509.20" fill="none" stroke="#2a2aff" stroke-width="1.30" stroke-linecap="butt" stroke-linejoin="round" opacity="1.00"/>
<path d="M36.80 375.80 C36.95 383.17 37.23 408.48 37.70 420.00 C38.17 431.52 38.87 436.60 39.60 444.90 C40.33 453.20 41.42 464.78 42.10 469.80 C42.78 474.82 43.12 472.47 43.70 475.00 C44.28 477.53 44.77 482.00 45.60 485.00 C46.43 488.00 47.15 491.35 48.70 493.00 C50.25 494.65 51.78 494.48 54.90 494.90 C58.02 495.32 63.25 495.08 67.40 495.50 C71.55 495.92 76.87 496.98 79.80 497.40 C82.73 497.82 82.05 498.02 85.00 498.00 C87.95 497.98 92.32 497.10 97.50 497.30 C102.68 497.50 110.92 498.57 116.10 499.20 C121.28 499.83 125.48 499.97 128.60 501.10 C131.72 502.23 133.15 504.55 134.80 506.00 C136.45 507.45 137.88 509.17 138.50 509.80" fill="none" stroke="#303030" stroke-width="1.30" stroke-linecap="butt" stroke-linejoin="round" opacity="1.00"/>
<path d="M36.60 375.80 C36.80 380.47 37.32 395.95 37.80 403.80 C38.28 411.65 38.87 416.87 39.50 422.90 C40.13 428.93 40.93 435.70 41.60 440.00 C42.27 444.30 42.57 445.58 43.50 448.70 C44.43 451.82 45.75 456.20 47.20 458.70 C48.65 461.20 49.92 462.15 52.20 463.70 C54.48 465.25 57.78 466.35 60.90 468.00 C64.02 469.65 68.00 471.83 70.90 473.60 C73.80 475.37 75.82 476.73 78.30 478.60 C80.78 480.47 83.60 482.73 85.80 484.80 C88.00 486.87 89.72 489.17 91.50 491.00 C93.28 492.83 94.92 494.70 96.50 495.80 C98.08 496.90 98.75 497.13 101.00 497.60 C103.25 498.07 105.82 498.02 110.00 498.60 C114.18 499.18 121.97 500.23 126.10 501.10 C130.23 501.97 131.38 503.38 134.80 503.80 C138.22 504.22 142.22 503.35 146.60 503.60 C150.98 503.85 155.73 504.33 161.10 505.30 C166.47 506.27 175.85 508.72 178.80 509.40" fill="none" stroke="#ff2a2a" stroke-width="1.30" stroke-linecap="butt" stroke-linejoin="round" opacity="1.00"/>
<text x="45.00" y="403.30" font-size="8.75" text-anchor="start" fill="#333" stroke="#333" stroke-width="0.22">Cycling rate: C/5</text>
<rect x="163.6" y="446.6" width="57.8" height="44.5" fill="#fff" stroke="none"/>
<rect x="163.60" y="446.60" width="57.80" height="44.50" fill="none" stroke="#555" stroke-width="1.00"/>
<line x1="167.40" y1="451.30" x2="180.70" y2="451.30" stroke="#ff2a2a" stroke-width="1.50"/>
<text x="184.90" y="453.80" font-size="8.00" text-anchor="start" fill="#222" stroke="#222" stroke-width="0.22">Cycle 1</text>
<line x1="167.40" y1="459.88" x2="180.70" y2="459.88" stroke="#3a9a3a" stroke-width="1.50"/>
<text x="184.90" y="462.38" font-size="8.00" text-anchor="start" fill="#222" stroke="#222" stroke-width="0.22">Cycle 2</text>
<line x1="167.40" y1="468.46" x2="180.70" y2="468.46" stroke="#2a2aff" stroke-width="1.50"/>
<text x="184.90" y="470.96" font-size="8.00" text-anchor="start" fill="#222" stroke="#222" stroke-width="0.22">Cycle 3</text>
<line x1="167.40" y1="477.04" x2="180.70" y2="477.04" stroke="#dcb43c" stroke-width="1.50"/>
<text x="184.90" y="479.54" font-size="8.00" text-anchor="start" fill="#222" stroke="#222" stroke-width="0.22">Cycle 4</text>
<line x1="167.40" y1="485.62" x2="180.70" y2="485.62" stroke="#303030" stroke-width="1.50"/>
<text x="184.90" y="488.12" font-size="8.00" text-anchor="start" fill="#222" stroke="#222" stroke-width="0.22">Cycle 5</text>
<text x="278.50" y="527.20" font-size="9.80" text-anchor="middle" fill="#333" stroke="#333" stroke-width="0.22">0</text>
<line x1="294.51" y1="513.90" x2="294.51" y2="510.90" stroke="#444" stroke-width="1.20"/>
<line x1="310.52" y1="513.90" x2="310.52" y2="508.90" stroke="#444" stroke-width="1.20"/>
<text x="310.52" y="527.20" font-size="9.80" text-anchor="middle" fill="#333" stroke="#333" stroke-width="0.22">50</text>
<line x1="326.52" y1="513.90" x2="326.52" y2="510.90" stroke="#444" stroke-width="1.20"/>
<line x1="342.53" y1="513.90" x2="342.53" y2="508.90" stroke="#444" stroke-width="1.20"/>
<text x="342.53" y="527.20" font-size="9.80" text-anchor="middle" fill="#333" stroke="#333" stroke-width="0.22">100</text>
<line x1="358.54" y1="513.90" x2="358.54" y2="510.90" stroke="#444" stroke-width="1.20"/>
<line x1="374.55" y1="513.90" x2="374.55" y2="508.90" stroke="#444" stroke-width="1.20"/>
<text x="374.55" y="527.20" font-size="9.80" text-anchor="middle" fill="#333" stroke="#333" stroke-width="0.22">150</text>
<line x1="390.56" y1="513.90" x2="390.56" y2="510.90" stroke="#444" stroke-width="1.20"/>
<line x1="406.57" y1="513.90" x2="406.57" y2="508.90" stroke="#444" stroke-width="1.20"/>
<text x="406.57" y="527.20" font-size="9.80" text-anchor="middle" fill="#333" stroke="#333" stroke-width="0.22">200</text>
<line x1="422.58" y1="513.90" x2="422.58" y2="510.90" stroke="#444" stroke-width="1.20"/>
<line x1="438.58" y1="513.90" x2="438.58" y2="508.90" stroke="#444" stroke-width="1.20"/>
<text x="438.58" y="527.20" font-size="9.80" text-anchor="middle" fill="#333" stroke="#333" stroke-width="0.22">250</text>
<line x1="454.59" y1="513.90" x2="454.59" y2="510.90" stroke="#444" stroke-width="1.20"/>
<text x="470.60" y="527.20" font-size="9.80" text-anchor="middle" fill="#333" stroke="#333" stroke-width="0.22">300</text>
<text x="273.50" y="517.30" font-size="9.80" text-anchor="end" fill="#333" stroke="#333" stroke-width="0.22">0.0</text>
<line x1="278.50" y1="504.70" x2="281.50" y2="504.70" stroke="#444" stroke-width="1.20"/>
<line x1="278.50" y1="495.50" x2="281.50" y2="495.50" stroke="#444" stroke-width="1.20"/>
<line x1="278.50" y1="486.30" x2="281.50" y2="486.30" stroke="#444" stroke-width="1.20"/>
<line x1="278.50" y1="477.10" x2="281.50" y2="477.10" stroke="#444" stroke-width="1.20"/>
<line x1="278.50" y1="467.90" x2="283.50" y2="467.90" stroke="#444" stroke-width="1.20"/>
<text x="273.50" y="471.30" font-size="9.80" text-anchor="end" fill="#333" stroke="#333" stroke-width="0.22">0.5</text>
<line x1="278.50" y1="458.70" x2="281.50" y2="458.70" stroke="#444" stroke-width="1.20"/>
<line x1="278.50" y1="449.50" x2="281.50" y2="449.50" stroke="#444" stroke-width="1.20"/>
<line x1="278.50" y1="440.30" x2="281.50" y2="440.30" stroke="#444" stroke-width="1.20"/>
<line x1="278.50" y1="431.10" x2="281.50" y2="431.10" stroke="#444" stroke-width="1.20"/>
<line x1="278.50" y1="421.90" x2="283.50" y2="421.90" stroke="#444" stroke-width="1.20"/>
<text x="273.50" y="425.30" font-size="9.80" text-anchor="end" fill="#333" stroke="#333" stroke-width="0.22">1.0</text>
<line x1="278.50" y1="412.70" x2="281.50" y2="412.70" stroke="#444" stroke-width="1.20"/>
<line x1="278.50" y1="403.50" x2="281.50" y2="403.50" stroke="#444" stroke-width="1.20"/>
<line x1="278.50" y1="394.30" x2="281.50" y2="394.30" stroke="#444" stroke-width="1.20"/>
<line x1="278.50" y1="385.10" x2="281.50" y2="385.10" stroke="#444" stroke-width="1.20"/>
<text x="273.50" y="379.30" font-size="9.80" text-anchor="end" fill="#333" stroke="#333" stroke-width="0.22">1.5</text>
<text x="374.55" y="541.70" font-size="9.75" text-anchor="middle" fill="#333" stroke="#333" stroke-width="0.22">Specific capacity (mAh/g)</text>
<text x="0" y="0" font-size="10" text-anchor="middle" fill="#333" stroke="#333" stroke-width="0.22" transform="translate(255.20 444.90) rotate(-90) scale(1 0.88)">Voltage (V)</text>
<rect x="278.50" y="375.90" width="192.10" height="138.00" fill="none" stroke="#5a5a5a" stroke-width="1.30"/>
<text x="0" y="0" font-size="15" fill="#222" stroke="#222" stroke-width="0.3" transform="translate(285.00 389.60) scale(0.92 1)">(e)</text>
<text x="466.00" y="391.40" font-size="11.50" text-anchor="end" fill="#222" stroke="#222" stroke-width="0.22">NTO-48h</text>
<path d="M278.70 500.00 C278.70 497.83 278.07 490.42 278.70 487.00 C279.33 483.58 280.83 481.93 282.50 479.50 C284.17 477.07 286.87 474.07 288.70 472.40 C290.53 470.73 291.83 470.53 293.50 469.50 C295.17 468.47 297.20 467.95 298.70 466.20 C300.20 464.45 301.53 461.37 302.50 459.00 C303.47 456.63 303.93 454.23 304.50 452.00 C305.07 449.77 305.37 448.13 305.90 445.60 C306.43 443.07 307.15 440.08 307.70 436.80 C308.25 433.52 308.70 429.53 309.20 425.90 C309.70 422.27 309.95 423.33 310.70 415.00 C311.45 406.67 313.20 382.42 313.70 375.90" fill="none" stroke="#dcb43c" stroke-width="1.30" stroke-dasharray="3.6 2" stroke-dashoffset="0.00" stroke-linecap="butt" stroke-linejoin="round" opacity="1.00"/>
<path d="M278.70 500.00 C278.70 497.97 278.23 491.12 278.70 487.80 C279.17 484.48 280.13 482.28 281.50 480.10 C282.87 477.92 283.93 475.63 286.90 474.70 C289.87 473.77 296.57 474.60 299.30 474.50 C302.03 474.40 301.12 474.57 303.30 474.10 C305.48 473.63 310.03 472.38 312.40 471.70 C314.77 471.02 315.95 470.93 317.50 470.00 C319.05 469.07 320.22 468.62 321.70 466.10 C323.18 463.58 325.15 459.25 326.40 454.90 C327.65 450.55 328.42 443.82 329.20 440.00 C329.98 436.18 329.85 442.68 331.10 432.00 C332.35 421.32 335.77 385.25 336.70 375.90" fill="none" stroke="#2a2aff" stroke-width="1.30" stroke-dasharray="3.6 2" stroke-dashoffset="0.00" stroke-linecap="butt" stroke-linejoin="round" opacity="1.00"/>
<path d="M279.30 500.00 C279.30 497.97 278.77 490.57 279.30 487.80 C279.83 485.03 281.05 485.32 282.50 483.40 C283.95 481.48 284.53 477.48 288.00 476.30 C291.47 475.12 299.85 476.38 303.30 476.30 C306.75 476.22 304.92 475.98 308.70 475.80 C312.48 475.62 321.97 475.42 326.00 475.20 C330.03 474.98 329.88 475.55 332.90 474.50 C335.92 473.45 341.45 471.87 344.10 468.90 C346.75 465.93 347.55 461.52 348.80 456.70 C350.05 451.88 350.88 444.12 351.60 440.00 C352.32 435.88 351.92 442.68 353.10 432.00 C354.28 421.32 357.77 385.25 358.70 375.90" fill="none" stroke="#3a9a3a" stroke-width="1.30" stroke-dasharray="3.6 2" stroke-dashoffset="0.00" stroke-linecap="butt" stroke-linejoin="round" opacity="1.00"/>
<path d="M278.70 505.00 C278.70 502.50 278.07 492.78 278.70 490.00 C279.33 487.22 280.77 489.85 282.50 488.30 C284.23 486.75 286.55 482.28 289.10 480.70 C291.65 479.12 292.65 479.08 297.80 478.80 C302.95 478.52 313.53 479.22 320.00 479.00 C326.47 478.78 332.27 477.78 336.60 477.50 C340.93 477.22 343.23 477.63 346.00 477.30 C348.77 476.97 350.40 476.28 353.20 475.50 C356.00 474.72 360.58 474.48 362.80 472.60 C365.02 470.72 365.57 469.33 366.50 464.20 C367.43 459.07 367.73 447.17 368.40 441.80 C369.07 436.43 369.42 442.98 370.50 432.00 C371.58 421.02 374.17 385.25 374.90 375.90" fill="none" stroke="#ff2a2a" stroke-width="1.30" stroke-dasharray="3.6 2" stroke-dashoffset="0.00" stroke-linecap="butt" stroke-linejoin="round" opacity="1.00"/>
<path d="M278.70 376.00 C278.88 383.33 279.33 406.83 279.80 420.00 C280.27 433.17 280.87 446.43 281.50 455.00 C282.13 463.57 282.78 466.85 283.60 471.40 C284.42 475.95 285.48 478.67 286.40 482.30 C287.32 485.93 287.92 490.47 289.10 493.20 C290.28 495.93 292.05 496.88 293.50 498.70 C294.95 500.52 295.62 502.83 297.80 504.10 C299.98 505.37 303.87 505.48 306.60 506.30 C309.33 507.12 312.93 508.55 314.20 509.00" fill="none" stroke="#dcb43c" stroke-width="1.30" stroke-linecap="butt" stroke-linejoin="round" opacity="1.00"/>
<path d="M278.70 376.00 C278.88 383.33 279.33 406.83 279.80 420.00 C280.27 433.17 280.87 446.43 281.50 455.00 C282.13 463.57 282.78 466.85 283.60 471.40 C284.42 475.95 285.48 479.20 286.40 482.30 C287.32 485.40 287.92 488.08 289.10 490.00 C290.28 491.92 291.68 492.90 293.50 493.80 C295.32 494.70 297.45 495.05 300.00 495.40 C302.55 495.75 305.47 495.43 308.80 495.90 C312.13 496.37 315.37 497.53 320.00 498.20 C324.63 498.87 331.07 499.48 336.60 499.90 C342.13 500.32 347.67 500.28 353.20 500.70 C358.73 501.12 365.10 501.70 369.80 502.40 C374.50 503.10 378.08 503.80 381.40 504.90 C384.72 506.00 388.32 508.32 389.70 509.00" fill="none" stroke="#ff2a2a" stroke-width="1.30" stroke-linecap="butt" stroke-linejoin="round" opacity="1.00"/>
<path d="M278.70 376.00 C278.88 383.33 279.33 406.83 279.80 420.00 C280.27 433.17 280.87 446.43 281.50 455.00 C282.13 463.57 282.78 466.85 283.60 471.40 C284.42 475.95 285.48 479.20 286.40 482.30 C287.32 485.40 287.92 488.08 289.10 490.00 C290.28 491.92 291.68 492.90 293.50 493.80 C295.32 494.70 297.45 494.87 300.00 495.40 C302.55 495.93 305.47 496.35 308.80 497.00 C312.13 497.65 315.37 498.53 320.00 499.30 C324.63 500.07 331.62 500.67 336.60 501.60 C341.58 502.53 345.75 503.58 349.90 504.90 C354.05 506.22 359.57 508.73 361.50 509.50" fill="none" stroke="#3a9a3a" stroke-width="1.30" stroke-linecap="butt" stroke-linejoin="round" opacity="1.00"/>
<path d="M278.70 376.00 C278.88 383.33 279.33 406.83 279.80 420.00 C280.27 433.17 280.87 446.43 281.50 455.00 C282.13 463.57 282.78 466.85 283.60 471.40 C284.42 475.95 285.48 479.20 286.40 482.30 C287.32 485.40 287.92 488.08 289.10 490.00 C290.28 491.92 291.68 492.90 293.50 493.80 C295.32 494.70 297.82 494.50 300.00 495.40 C302.18 496.30 304.60 498.20 306.60 499.20 C308.60 500.20 309.77 500.73 312.00 501.40 C314.23 502.07 317.28 502.48 320.00 503.20 C322.72 503.92 325.32 504.65 328.30 505.70 C331.28 506.75 336.30 508.87 337.90 509.50" fill="none" stroke="#2a2aff" stroke-width="1.30" stroke-linecap="butt" stroke-linejoin="round" opacity="1.00"/>
<line x1="278.90" y1="376.40" x2="278.98" y2="382.40" stroke="#ff2a2a" stroke-width="1.30"/>
<line x1="278.90" y1="382.40" x2="279.01" y2="385.30" stroke="#3a9a3a" stroke-width="1.30"/>
<line x1="278.90" y1="385.30" x2="279.10" y2="392.60" stroke="#2a2aff" stroke-width="1.30"/>
<line x1="278.90" y1="392.60" x2="279.19" y2="399.90" stroke="#dcb43c" stroke-width="1.30"/>
<line x1="278.90" y1="399.90" x2="279.31" y2="410.00" stroke="#ff2a2a" stroke-width="1.30"/>
<line x1="278.90" y1="410.00" x2="279.36" y2="414.40" stroke="#3a9a3a" stroke-width="1.30"/>
<line x1="278.90" y1="414.40" x2="279.50" y2="426.00" stroke="#2a2aff" stroke-width="1.30"/>
<text x="0" y="0" font-size="8.50" font-weight="bold" text-anchor="middle" fill="#dcb43c" transform="translate(304.50 423.30) rotate(-74)" dominant-baseline="central">2C</text>
<text x="0" y="0" font-size="8.50" font-weight="bold" text-anchor="middle" fill="#2a2aff" transform="translate(326.10 432.40) rotate(-74)" dominant-baseline="central">1C</text>
<text x="0" y="0" font-size="8.50" font-weight="bold" text-anchor="middle" fill="#3a9a3a" transform="translate(345.50 444.10) rotate(-74)" dominant-baseline="central">C/2</text>
<text x="0" y="0" font-size="8.50" font-weight="bold" text-anchor="middle" fill="#ff2a2a" transform="translate(361.00 456.70) rotate(-74)" dominant-baseline="central">C/5</text>
</svg></body></html>
